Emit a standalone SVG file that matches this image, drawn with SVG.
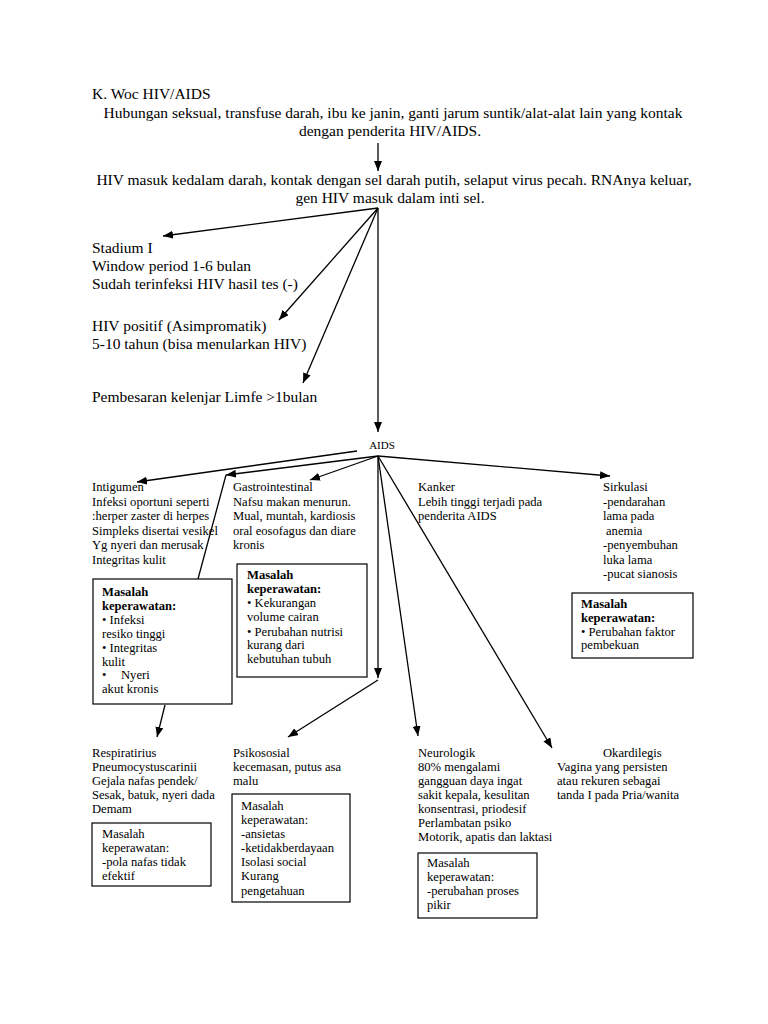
<svg xmlns="http://www.w3.org/2000/svg" width="768" height="1024" viewBox="0 0 768 1024">
<style>
text{font-family:"Liberation Serif","Times New Roman",serif;fill:#000}
.t{font-size:15.5px}
.s{font-size:12.6px}
.a{font-size:11px}
.b{font-weight:bold}
.box{fill:#fff;stroke:#000;stroke-width:1.2}
.c line{stroke:#000;stroke-width:1.3}
</style>
<defs>
<marker id="ah" viewBox="0 0 10 8" refX="10" refY="4" markerWidth="10" markerHeight="8" orient="auto" markerUnits="userSpaceOnUse"><path d="M0,0 L10,4 L0,8 z" fill="#000"/></marker>
</defs>
<rect width="768" height="1024" fill="#fff"/>
<g class="c" id="connectors">
<line x1="378" y1="143" x2="378" y2="171" marker-end="url(#ah)"/>
<line x1="378" y1="208" x2="163" y2="236" marker-end="url(#ah)"/>
<line x1="378" y1="208" x2="279" y2="320" marker-end="url(#ah)"/>
<line x1="378" y1="208" x2="303" y2="383" marker-end="url(#ah)"/>
<line x1="378" y1="208" x2="378" y2="432" marker-end="url(#ah)"/>
<line x1="357" y1="451" x2="137" y2="482" marker-end="url(#ah)"/>
<line x1="378" y1="456" x2="226" y2="475" marker-end="url(#ah)"/>
<line x1="226" y1="475" x2="198" y2="579"/>
<line x1="378" y1="456" x2="310" y2="480" marker-end="url(#ah)"/>
<line x1="378" y1="456" x2="610" y2="476" marker-end="url(#ah)"/>
<line x1="378" y1="456" x2="378" y2="678" marker-end="url(#ah)"/>
<line x1="378" y1="680" x2="288" y2="737" marker-end="url(#ah)"/>
<line x1="378" y1="456" x2="418" y2="736" marker-end="url(#ah)"/>
<line x1="378" y1="456" x2="552" y2="748" marker-end="url(#ah)"/>
<line x1="165" y1="705" x2="157" y2="737" marker-end="url(#ah)"/>
</g>
<g id="title"><text class="t" x="92" y="99">K. Woc HIV/AIDS</text></g>
<g id="n-cause">
<text class="t" x="393" y="118" text-anchor="middle">Hubungan seksual, transfuse darah, ibu ke janin, ganti jarum suntik/alat-alat lain yang kontak</text>
<text class="t" x="390" y="136" text-anchor="middle">dengan penderita HIV/AIDS.</text>
</g>
<g id="n-entry">
<text class="t" x="394" y="185" text-anchor="middle">HIV masuk kedalam darah, kontak dengan sel darah putih, selaput virus pecah. RNAnya keluar,</text>
<text class="t" x="390" y="203" text-anchor="middle">gen HIV masuk dalam inti sel.</text>
</g>
<g id="n-stadium">
<text class="t" x="92" y="253">Stadium I</text>
<text class="t" x="92" y="271">Window period 1-6 bulan</text>
<text class="t" x="92" y="289">Sudah terinfeksi HIV hasil tes (-)</text>
</g>
<g id="n-positif">
<text class="t" x="92" y="331">HIV positif (Asimpromatik)</text>
<text class="t" x="92" y="349">5-10 tahun (bisa menularkan HIV)</text>
</g>
<g id="n-limfe"><text class="t" x="92" y="402">Pembesaran kelenjar Limfe &gt;1bulan</text></g>
<g id="n-aids"><text class="a" x="382" y="449" text-anchor="middle">AIDS</text></g>
<g id="n-intigumen">
<text class="s" x="92" y="491">Intigumen</text>
<text class="s" x="92" y="505.5">Infeksi oportuni seperti</text>
<text class="s" x="92" y="520">:herper zaster di herpes</text>
<text class="s" x="92" y="534.5">Simpleks disertai vesikel</text>
<text class="s" x="92" y="549">Yg nyeri dan merusak</text>
<text class="s" x="92" y="563.5">Integritas kulit</text>
</g>
<g id="n-gastro">
<text class="s" x="233" y="491">Gastrointestinal</text>
<text class="s" x="233" y="505.5">Nafsu makan menurun.</text>
<text class="s" x="233" y="520">Mual, muntah, kardiosis</text>
<text class="s" x="233" y="534.5">oral eosofagus dan diare</text>
<text class="s" x="233" y="549">kronis</text>
</g>
<g id="n-kanker">
<text class="s" x="418" y="491">Kanker</text>
<text class="s" x="418" y="505.5">Lebih tinggi terjadi pada</text>
<text class="s" x="418" y="520">penderita AIDS</text>
</g>
<g id="n-sirkulasi">
<text class="s" x="603" y="491">Sirkulasi</text>
<text class="s" x="603" y="505.5">-pendarahan</text>
<text class="s" x="603" y="520">lama pada</text>
<text class="s" x="606" y="534.5">anemia</text>
<text class="s" x="603" y="549">-penyembuhan</text>
<text class="s" x="603" y="563.5">luka lama</text>
<text class="s" x="603" y="578">-pucat sianosis</text>
</g>
<g id="m-intigumen">
<rect class="box" x="93" y="579" width="139" height="125"/>
<text class="s b" x="102" y="596">Masalah</text>
<text class="s b" x="102" y="610">keperawatan:</text>
<text class="s" x="102" y="624">• Infeksi</text>
<text class="s" x="102" y="638">resiko tinggi</text>
<text class="s" x="102" y="652">• Integritas</text>
<text class="s" x="102" y="666">kulit</text>
<text class="s" x="102" y="679">•</text>
<text class="s" x="121" y="679">Nyeri</text>
<text class="s" x="102" y="693">akut kronis</text>
</g>
<g id="m-gastro">
<rect class="box" x="237" y="564" width="130" height="113"/>
<text class="s b" x="247" y="579">Masalah</text>
<text class="s b" x="247" y="593">keperawatan:</text>
<text class="s" x="247" y="607">• Kekurangan</text>
<text class="s" x="247" y="621">volume cairan</text>
<text class="s" x="247" y="636">• Perubahan nutrisi</text>
<text class="s" x="247" y="649">kurang dari</text>
<text class="s" x="247" y="663">kebutuhan tubuh</text>
</g>
<g id="m-sirkulasi">
<rect class="box" x="572" y="593" width="121" height="65"/>
<text class="s b" x="581" y="608">Masalah</text>
<text class="s b" x="581" y="622">keperawatan:</text>
<text class="s" x="581" y="636">• Perubahan faktor</text>
<text class="s" x="581" y="649">pembekuan</text>
</g>
<g id="n-respiratirius">
<text class="s" x="92" y="757">Respiratirius</text>
<text class="s" x="92" y="771">Pneumocystuscarinii</text>
<text class="s" x="92" y="785">Gejala nafas pendek/</text>
<text class="s" x="92" y="799">Sesak, batuk, nyeri dada</text>
<text class="s" x="92" y="813">Demam</text>
</g>
<g id="m-respiratirius">
<rect class="box" x="92" y="823" width="119" height="63"/>
<text class="s" x="102" y="838">Masalah</text>
<text class="s" x="102" y="852">keperawatan:</text>
<text class="s" x="102" y="866">-pola nafas tidak</text>
<text class="s" x="102" y="880">efektif</text>
</g>
<g id="n-psikososial">
<text class="s" x="233" y="757">Psikososial</text>
<text class="s" x="233" y="771">kecemasan, putus asa</text>
<text class="s" x="233" y="785">malu</text>
</g>
<g id="m-psikososial">
<rect class="box" x="232" y="794" width="118" height="108"/>
<text class="s" x="241" y="810">Masalah</text>
<text class="s" x="241" y="824">keperawatan:</text>
<text class="s" x="241" y="838">-ansietas</text>
<text class="s" x="241" y="852">-ketidakberdayaan</text>
<text class="s" x="241" y="866">Isolasi social</text>
<text class="s" x="241" y="880">Kurang</text>
<text class="s" x="241" y="895">pengetahuan</text>
</g>
<g id="n-neurologik">
<text class="s" x="418" y="757">Neurologik</text>
<text class="s" x="418" y="771">80% mengalami</text>
<text class="s" x="418" y="785">gangguan daya ingat</text>
<text class="s" x="418" y="799">sakit kepala, kesulitan</text>
<text class="s" x="418" y="813">konsentrasi, priodesif</text>
<text class="s" x="418" y="827">Perlambatan psiko</text>
<text class="s" x="418" y="841">Motorik, apatis dan laktasi</text>
</g>
<g id="m-neurologik">
<rect class="box" x="418" y="853" width="119" height="65"/>
<text class="s" x="427" y="867">Masalah</text>
<text class="s" x="427" y="881">keperawatan:</text>
<text class="s" x="427" y="895">-perubahan proses</text>
<text class="s" x="427" y="909">pikir</text>
</g>
<g id="n-okardilegis">
<text class="s" x="603" y="757">Okardilegis</text>
<text class="s" x="557" y="771">Vagina yang persisten</text>
<text class="s" x="557" y="785">atau rekuren sebagai</text>
<text class="s" x="557" y="799">tanda I pada Pria/wanita</text>
</g>
</svg>
